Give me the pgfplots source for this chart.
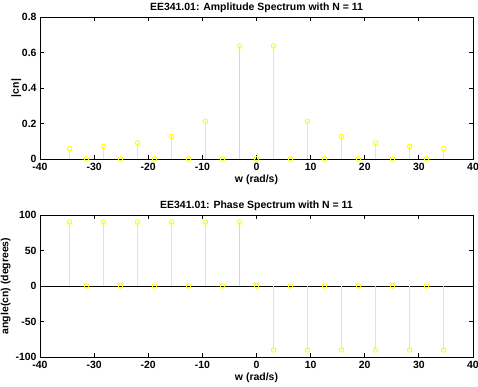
\documentclass[border=0pt]{standalone}
\usepackage{pgfplots}
\pgfplotsset{compat=1.18}
\usepackage{fontspec}
\setmainfont{Liberation Sans}
\definecolor{yel}{RGB}{255,255,0}
\definecolor{lg}{RGB}{215,215,215}
\pgfplotstableread{
w amp ph
-34.5575 0.05787 90
-31.4159 0 0
-28.2743 0.07074 90
-25.1327 0 0
-21.9911 0.09095 90
-18.8496 0 0
-15.7080 0.12732 90
-12.5664 0 0
-9.4248 0.21221 90
-6.2832 0 0
-3.1416 0.63662 90
0 0 0
3.1416 0.63662 -90
6.2832 0 0
9.4248 0.21221 -90
12.5664 0 0
15.7080 0.12732 -90
18.8496 0 0
21.9911 0.09095 -90
25.1327 0 0
28.2743 0.07074 -90
31.4159 0 0
34.5575 0.05787 -90
}\datatab
\begin{document}
\begin{tikzpicture}
\useasboundingbox (0bp,0bp) rectangle (478bp,387bp);
\pgfplotsset{
  every axis/.append style={
    scale only axis, width=433bp, height=142bp,
    xmin=-40, xmax=40, xtick={-40,-30,...,40},
    tick align=inside, major tick length=4bp,
    axis line style={line width=0.9pt}, every tick/.style={line width=0.8pt,black},
    tick label style={font=\fontsize{10.5}{12}\selectfont\bfseries},
    label style={font=\fontsize{10.5}{12}\selectfont\bfseries},
    title style={font=\fontsize{10.5}{12}\selectfont\bfseries, yshift=-5bp},
    /pgf/number format/assume math mode=true,
    anchor=south west,
    xlabel={w (rad/s)},
    xlabel style={yshift=3bp},
    xticklabel style={yshift=-1bp},
  },
}
\begin{axis}[at={(40bp,228bp)},
  ymin=0, ymax=0.8, ytick={0,0.2,0.4,0.6,0.8},
  yticklabel style={/pgf/number format/fixed, /pgf/number format/precision=1},
  title={EE341.01: Amplitude Spectrum with N = 11},
  ylabel={|cn|}, ylabel style={yshift=-6bp},
]
\addplot[draw=yel, line width=1.4pt, no marks, unbounded coords=jump] coordinates {
(-34.5575,0) (-34.5575,0.05787) (nan,nan)
(-28.2743,0) (-28.2743,0.07074) (nan,nan)
(-21.9911,0) (-21.9911,0.09095) (nan,nan)
(-15.7080,0) (-15.7080,0.12732) (nan,nan)
(-9.4248,0) (-9.4248,0.21221) (nan,nan)
(3.1416,0) (3.1416,0.63662) (nan,nan)
(9.4248,0) (9.4248,0.21221) (nan,nan)
(15.7080,0) (15.7080,0.12732) (nan,nan)
(21.9911,0) (21.9911,0.09095) (nan,nan)
(28.2743,0) (28.2743,0.07074) (nan,nan)
(34.5575,0) (34.5575,0.05787)
};
\addplot[draw=lg, line width=1pt, no marks] coordinates {(-3.1416,0) (-3.1416,0.63662)};
\addplot[only marks, mark=o, mark size=2.3pt, mark options={line width=0.9pt,draw=yel}] table[x=w,y=amp]{\datatab};
\end{axis}
\begin{axis}[at={(40bp,30bp)},
  ymin=-100, ymax=100, ytick={-100,-50,0,50,100},
  title={EE341.01: Phase Spectrum with N = 11},
  ylabel={angle(cn) (degrees)}, ylabel style={yshift=-2bp},
]
\addplot[black, line width=0.8pt, no marks] coordinates {(-40,0) (40,0)};
\addplot[draw=yel, line width=1.4pt, no marks, unbounded coords=jump] coordinates {
(-34.5575,0) (-34.5575,90) (nan,nan)
(-28.2743,0) (-28.2743,90) (nan,nan)
(-21.9911,0) (-21.9911,90) (nan,nan)
(-15.7080,0) (-15.7080,90) (nan,nan)
(-9.4248,0) (-9.4248,90) (nan,nan)
(3.1416,0) (3.1416,-90) (nan,nan)
(9.4248,0) (9.4248,-90) (nan,nan)
(15.7080,0) (15.7080,-90) (nan,nan)
(21.9911,0) (21.9911,-90) (nan,nan)
(28.2743,0) (28.2743,-90) (nan,nan)
(34.5575,0) (34.5575,-90)
};
\addplot[draw=lg, line width=1pt, no marks] coordinates {(-3.1416,0) (-3.1416,90)};
\addplot[only marks, mark=o, mark size=2.3pt, mark options={line width=0.9pt,draw=yel}] table[x=w,y=ph]{\datatab};
\end{axis}
\end{tikzpicture}
\end{document}
